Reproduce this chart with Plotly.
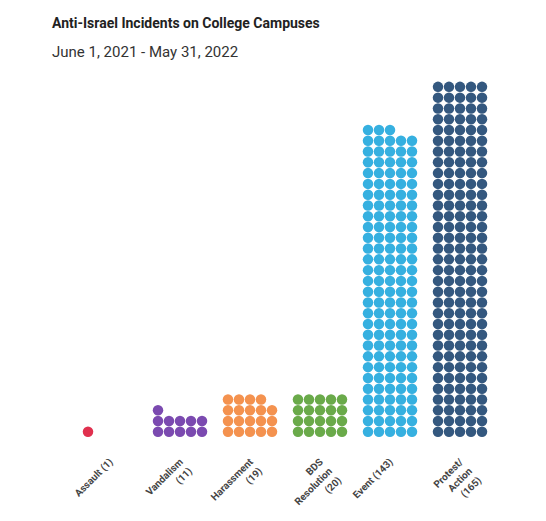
import plotly.graph_objects as go

categories = ["Assault (1)", "Vandalism<br>(11)", "Harassment<br>(19)", "BDS<br>Resolution<br>(20)", "Event (143)", "Protest/<br>Action<br>(165)"]
counts = [1, 11, 19, 20, 143, 165]
colors = ["#e0304e", "#7b4ab0", "#f4924f", "#6aaa4a", "#36b0e0", "#34587f"]
per_row = 5

fig = go.Figure()
step = 11 / 70
for i, (n, col) in enumerate(zip(counts, colors)):
    xs, ys = [], []
    for k in range(n):
        r, c = divmod(k, per_row)
        xs.append(i + (c - 2) * step)
        ys.append(r)
    fig.add_trace(go.Scatter(x=xs, y=ys, mode="markers",
                             marker=dict(size=10.5, color=col, line=dict(width=0)),
                             hoverinfo="skip", showlegend=False))

W, H = 546, 521
l, r, t, b = 40, 40, 60, 61
fig.update_layout(
    width=W, height=H, margin=dict(l=l, r=r, t=t, b=b),
    paper_bgcolor="white", plot_bgcolor="white",
    font=dict(family="Roboto", color="#333"),
    xaxis=dict(range=[(l - 102) / 70, (W - r - 102) / 70], tickvals=list(range(6)),
               ticktext=["<b>%s</b>" % c for c in categories], tickangle=-45,
               showgrid=False, zeroline=False, showline=False, ticks="",
               tickfont=dict(size=10, color="#444")),
    yaxis=dict(range=[-(H - b - 438) / 11.2, (438 - t) / 11.2], visible=False),
    annotations=[
        dict(text="<b>Anti-Israel Incidents on College Campuses</b>", x=42, y=H - 22,
             xref="x domain", yref="y domain", showarrow=False),
    ],
)
fig.layout.annotations = []
fig.add_annotation(text="<b>Anti-Israel Incidents on College Campuses</b>", xref="paper", yref="paper",
                   x=(42 - l) / (W - l - r), y=1 + (t - 13) / (H - t - b), xanchor="left", yanchor="middle",
                   showarrow=False, font=dict(size=14, color="#222", family="Roboto"))
fig.add_annotation(text="June 1, 2021 - May 31, 2022", xref="paper", yref="paper",
                   x=(42 - l) / (W - l - r), y=1 + (t - 43) / (H - t - b), xanchor="left", yanchor="middle",
                   showarrow=False, font=dict(size=15, color="#333", family="Roboto"))
fig.write_html("out.html")
